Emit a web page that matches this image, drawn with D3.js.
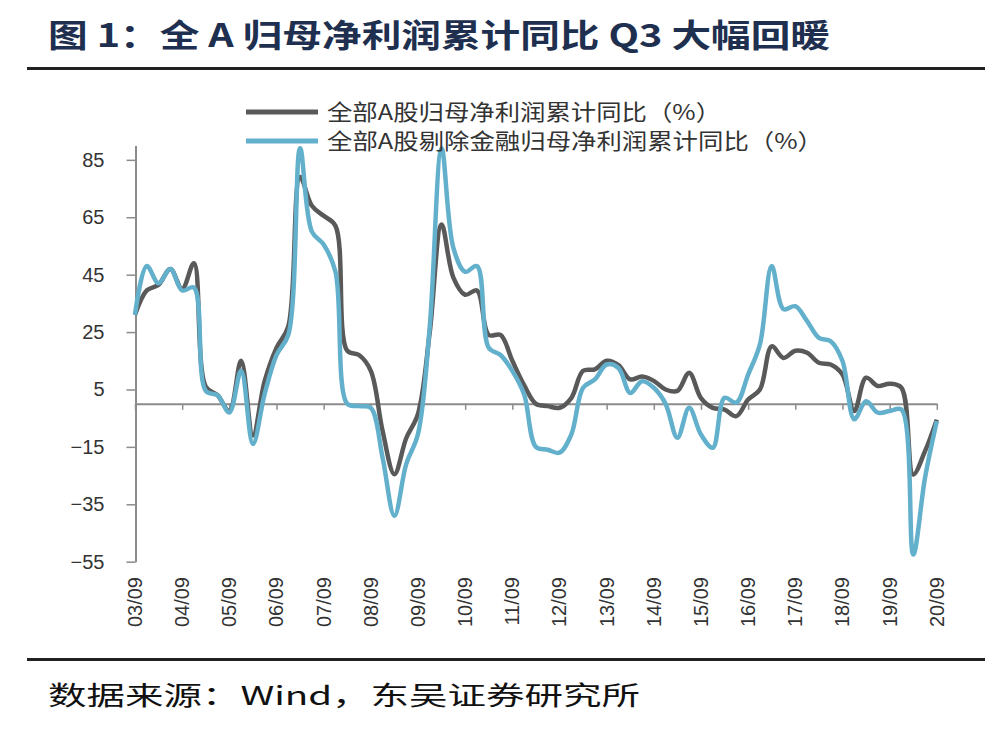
<!DOCTYPE html>
<html>
<head>
<meta charset="utf-8">
<script src="https://cdn.jsdelivr.net/npm/d3@7"></script>
<style>
  body { margin: 0; background: #fff; }
  svg { display: block; }
</style>
</head>
<body>
<div id="chart"></div>
<script>
// quarterly data, 03/09 .. 20/09 (69 points)
var yearLabels = ["03/09","04/09","05/09","06/09","07/09","08/09","09/09","10/09","11/09",
  "12/09","13/09","14/09","15/09","16/09","17/09","18/09","19/09","20/09"];

var allA = [31,39.5,41.5,47,40,49,6,3,-2.5,15,-11,8,19.5,27,79,69,65.5,62,
  18.5,17,11.5,-9.5,-24.5,-12,-3.5,25,62.5,44,38,39.5,24,24,15,6.5,0,-0.8,-1.4,2,
  11.5,12,15,13.5,8.5,9.5,8,5,4.5,10.8,2,-1.4,-2,-4.3,1.5,5,20,16,18.5,17.8,14.3,
  13.7,10.2,-2.5,9.1,6.2,7,5.6,-24.6,-16.5,-5.5];

var exFin = [31,48,42,47,39.5,40.5,4.5,3,-3,11.5,-14,3.5,17,24,89,60,55.5,46,
  0,-0.8,-1.4,-18.8,-39,-21,-10.5,27,89,54.3,46,48,19.5,17,11.5,3.3,-15,-16,-17,-10.7,
  5.6,8.5,13.7,12.5,3.8,7.9,5.6,0,-11.8,-1.4,-10.7,-15.3,2.1,0.4,10.2,20.7,48,33,34,
  28.8,23,21.8,14.9,-5.4,0.9,-3.1,-2.5,-2,-52.5,-25.8,-6];

var yTicks = [-55,-35,-15,5,25,45,65,85];
var seriesNames = ["全部A股归母净利润累计同比（%）", "全部A股剔除金融归母净利润累计同比（%）"];
var titleText = "图 1：全 A 归母净利润累计同比 Q3 大幅回暖";
var sourceText = "数据来源：Wind，东吴证券研究所";

var width = 1000, height = 732;
var grayColor = "#595959", blueColor = "#62b0cb", axisColor = "#8c8c8c";

var svg = d3.select("#chart").append("svg")
  .attr("width", width)
  .attr("height", height);

// title + rules
svg.append("text")
  .attr("x", 48).attr("y", 47)
  .attr("textLength", 782).attr("lengthAdjust", "spacingAndGlyphs")
  .style("font-family", "'Noto Sans CJK SC', sans-serif")
  .style("font-weight", "bold")
  .style("font-size", "32px")
  .style("fill", "#1e2f4f")
  .text(titleText);

svg.append("rect").attr("x", 27).attr("y", 67).attr("width", 958).attr("height", 3).style("fill", "#222");
svg.append("rect").attr("x", 27).attr("y", 658).attr("width", 958).attr("height", 3).style("fill", "#222");

svg.append("text")
  .attr("x", 48).attr("y", 705)
  .attr("textLength", 592).attr("lengthAdjust", "spacingAndGlyphs")
  .style("font-family", "'Noto Sans CJK SC', sans-serif")
  .style("font-size", "26px")
  .style("fill", "#111")
  .text(sourceText);

// scales
var x = d3.scaleLinear().domain([0, allA.length - 1]).range([135, 936.8]);
var y = d3.scaleLinear().domain([-55, 90]).range([561.7, 145.5]);

// y axis
var yAxis = svg.append("g")
  .attr("transform", "translate(135.5,0)")
  .call(d3.axisLeft(y).tickValues(yTicks).tickSize(9).tickSizeOuter(0).tickPadding(22));
yAxis.select(".domain").style("stroke", axisColor).style("stroke-width", 2);
yAxis.selectAll(".tick line").style("stroke", axisColor).style("stroke-width", 1.5);
yAxis.selectAll(".tick text")
  .style("font-family", "'Liberation Sans', Arial, sans-serif")
  .style("font-size", "20px")
  .style("fill", "#333");

// x axis at zero, ticks every september
var xAxis = svg.append("g")
  .attr("transform", "translate(0," + y(0) + ")")
  .call(d3.axisBottom(x).tickValues(d3.range(0, allA.length, 4)).tickSize(6).tickSizeOuter(0).tickFormat(""));
xAxis.select(".domain").style("stroke", axisColor).style("stroke-width", 2);
xAxis.selectAll(".tick line").style("stroke", axisColor).style("stroke-width", 1.5);

// category labels at the bottom, rotated
svg.append("g").selectAll("text")
  .data(yearLabels)
  .enter().append("text")
  .attr("transform", function(d, i) { return "translate(" + (x(i * 4) + 7) + ",577) rotate(-90)"; })
  .attr("text-anchor", "end")
  .style("font-family", "'Liberation Sans', Arial, sans-serif")
  .style("font-size", "20px")
  .style("fill", "#333")
  .text(function(d) { return d; });

// lines
var line = d3.line()
  .x(function(d, i) { return x(i); })
  .y(function(d) { return y(d); })
  .curve(d3.curveCatmullRom);

svg.append("path").datum(allA)
  .attr("d", line)
  .style("fill", "none").style("stroke", grayColor).style("stroke-width", 4.5)
  .style("stroke-linejoin", "round");

svg.append("path").datum(exFin)
  .attr("d", line)
  .style("fill", "none").style("stroke", blueColor).style("stroke-width", 4.5)
  .style("stroke-linejoin", "round");

// legend
var legend = svg.append("g");
var legendColors = [grayColor, blueColor];
var legendLen = [394, 496];
seriesNames.forEach(function(name, i) {
  var ly = 112 + i * 29;
  legend.append("line")
    .attr("x1", 246).attr("x2", 318).attr("y1", ly).attr("y2", ly)
    .style("stroke", legendColors[i]).style("stroke-width", 5);
  legend.append("text")
    .attr("x", 327).attr("y", ly + 8)
    .attr("textLength", legendLen[i]).attr("lengthAdjust", "spacingAndGlyphs")
    .style("font-family", "'Noto Sans CJK SC', sans-serif")
    .style("font-size", "22px")
    .style("fill", "#333")
    .text(name);
});
</script>
</body>
</html>
